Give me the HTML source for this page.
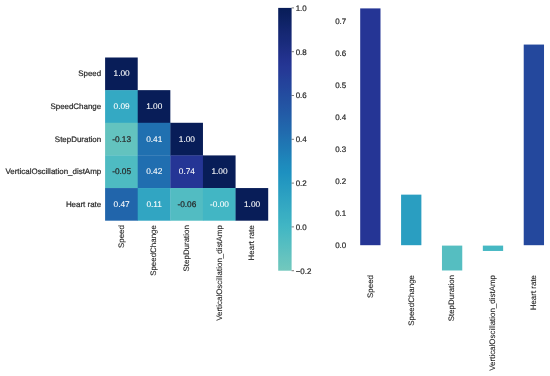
<!DOCTYPE html>
<html><head><meta charset="utf-8"><style>
html,body{margin:0;padding:0;background:#fff;}
svg{display:block;filter:blur(0.35px);}
text{font-family:"Liberation Sans",Arial,sans-serif;font-size:7.95px;text-rendering:geometricPrecision;stroke-width:0.2px;}
</style></head><body>
<svg width="550" height="376" viewBox="0 0 550 376">
<rect width="550" height="376" fill="#ffffff"/>
<defs><linearGradient id="cb" x1="0" y1="0" x2="0" y2="1"><stop offset="0.00%" stop-color="#081d58"/><stop offset="2.50%" stop-color="#0b1f5e"/><stop offset="5.00%" stop-color="#0e2265"/><stop offset="7.50%" stop-color="#12256d"/><stop offset="10.00%" stop-color="#162874"/><stop offset="12.50%" stop-color="#182a7a"/><stop offset="15.00%" stop-color="#1c2d81"/><stop offset="17.50%" stop-color="#203089"/><stop offset="20.00%" stop-color="#233390"/><stop offset="22.50%" stop-color="#253795"/><stop offset="25.00%" stop-color="#253b97"/><stop offset="27.50%" stop-color="#24419a"/><stop offset="30.00%" stop-color="#24459c"/><stop offset="32.50%" stop-color="#234b9f"/><stop offset="35.00%" stop-color="#2350a1"/><stop offset="37.50%" stop-color="#2355a4"/><stop offset="40.00%" stop-color="#225aa6"/><stop offset="42.50%" stop-color="#2260a9"/><stop offset="45.00%" stop-color="#2166ac"/><stop offset="47.50%" stop-color="#216bae"/><stop offset="50.00%" stop-color="#2072b1"/><stop offset="52.50%" stop-color="#1f78b4"/><stop offset="55.00%" stop-color="#1f7eb7"/><stop offset="57.50%" stop-color="#1e85ba"/><stop offset="60.00%" stop-color="#1e8bbd"/><stop offset="62.50%" stop-color="#1d90c0"/><stop offset="65.00%" stop-color="#2195c0"/><stop offset="67.50%" stop-color="#259ac1"/><stop offset="70.00%" stop-color="#2a9ec1"/><stop offset="72.50%" stop-color="#2ea3c2"/><stop offset="75.00%" stop-color="#33a7c2"/><stop offset="77.50%" stop-color="#37acc3"/><stop offset="80.00%" stop-color="#3bb0c3"/><stop offset="82.50%" stop-color="#40b5c4"/><stop offset="85.00%" stop-color="#46b8c3"/><stop offset="87.50%" stop-color="#4ebbc2"/><stop offset="90.00%" stop-color="#55bec1"/><stop offset="92.50%" stop-color="#5dc0c0"/><stop offset="95.00%" stop-color="#65c3bf"/><stop offset="97.50%" stop-color="#6bc6be"/><stop offset="100.00%" stop-color="#73c8bd"/></linearGradient></defs>
<rect x="105.10" y="57.50" width="32.62" height="32.94" fill="#081d58"/>
<text x="121.61" y="76.32" text-anchor="middle" fill="#ffffff" stroke="#ffffff" style="font-size:8.3px;stroke-width:0.08px">1.00</text>
<rect x="105.10" y="90.14" width="32.92" height="32.94" fill="#34a9c3"/>
<text x="121.61" y="108.96" text-anchor="middle" fill="#ffffff" stroke="#ffffff" style="font-size:8.3px;stroke-width:0.08px">0.09</text>
<rect x="137.72" y="90.14" width="32.62" height="32.94" fill="#081d58"/>
<text x="154.23" y="108.96" text-anchor="middle" fill="#ffffff" stroke="#ffffff" style="font-size:8.3px;stroke-width:0.08px">1.00</text>
<rect x="105.10" y="122.78" width="32.92" height="32.94" fill="#63c3bf"/>
<text x="121.61" y="141.60" text-anchor="middle" fill="#262626" stroke="#262626" style="font-size:8.3px;stroke-width:0.2px">-0.13</text>
<rect x="137.72" y="122.78" width="32.92" height="32.94" fill="#2070b0"/>
<text x="154.23" y="141.60" text-anchor="middle" fill="#ffffff" stroke="#ffffff" style="font-size:8.3px;stroke-width:0.08px">0.41</text>
<rect x="170.34" y="122.78" width="32.62" height="32.94" fill="#081d58"/>
<text x="186.85" y="141.60" text-anchor="middle" fill="#ffffff" stroke="#ffffff" style="font-size:8.3px;stroke-width:0.08px">1.00</text>
<rect x="105.10" y="155.42" width="32.92" height="32.94" fill="#4ebbc2"/>
<text x="121.61" y="174.24" text-anchor="middle" fill="#262626" stroke="#262626" style="font-size:8.3px;stroke-width:0.2px">-0.05</text>
<rect x="137.72" y="155.42" width="32.92" height="32.94" fill="#206eb0"/>
<text x="154.23" y="174.24" text-anchor="middle" fill="#ffffff" stroke="#ffffff" style="font-size:8.3px;stroke-width:0.08px">0.42</text>
<rect x="170.34" y="155.42" width="32.92" height="32.94" fill="#253595"/>
<text x="186.85" y="174.24" text-anchor="middle" fill="#ffffff" stroke="#ffffff" style="font-size:8.3px;stroke-width:0.08px">0.74</text>
<rect x="202.96" y="155.42" width="32.62" height="32.94" fill="#081d58"/>
<text x="219.47" y="174.24" text-anchor="middle" fill="#ffffff" stroke="#ffffff" style="font-size:8.3px;stroke-width:0.08px">1.00</text>
<rect x="105.10" y="188.06" width="32.92" height="32.64" fill="#2165ab"/>
<text x="121.61" y="206.88" text-anchor="middle" fill="#ffffff" stroke="#ffffff" style="font-size:8.3px;stroke-width:0.08px">0.47</text>
<rect x="137.72" y="188.06" width="32.92" height="32.64" fill="#31a5c2"/>
<text x="154.23" y="206.88" text-anchor="middle" fill="#ffffff" stroke="#ffffff" style="font-size:8.3px;stroke-width:0.08px">0.11</text>
<rect x="170.34" y="188.06" width="32.92" height="32.64" fill="#52bcc2"/>
<text x="186.85" y="206.88" text-anchor="middle" fill="#262626" stroke="#262626" style="font-size:8.3px;stroke-width:0.2px">-0.06</text>
<rect x="202.96" y="188.06" width="32.92" height="32.64" fill="#42b6c4"/>
<text x="219.47" y="206.88" text-anchor="middle" fill="#ffffff" stroke="#ffffff" style="font-size:8.3px;stroke-width:0.08px">-0.00</text>
<rect x="235.58" y="188.06" width="32.62" height="32.64" fill="#081d58"/>
<text x="252.09" y="206.88" text-anchor="middle" fill="#ffffff" stroke="#ffffff" style="font-size:8.3px;stroke-width:0.08px">1.00</text>
<text x="101.2" y="76.22" text-anchor="end" fill="#262626" stroke="#262626">Speed</text>
<text x="101.2" y="108.86" text-anchor="end" fill="#262626" stroke="#262626">SpeedChange</text>
<text x="101.2" y="141.50" text-anchor="end" fill="#262626" stroke="#262626">StepDuration</text>
<text x="101.2" y="174.14" text-anchor="end" fill="#262626" stroke="#262626">VerticalOscillation_distAmp</text>
<text x="101.2" y="206.78" text-anchor="end" fill="#262626" stroke="#262626">Heart rate</text>
<text transform="translate(123.81,225.1) rotate(-90)" text-anchor="end" fill="#262626" stroke="#262626" style="stroke-width:0.1px">Speed</text>
<text transform="translate(156.43,225.1) rotate(-90)" text-anchor="end" fill="#262626" stroke="#262626" style="stroke-width:0.1px">SpeedChange</text>
<text transform="translate(189.05,225.1) rotate(-90)" text-anchor="end" fill="#262626" stroke="#262626" style="stroke-width:0.1px">StepDuration</text>
<text transform="translate(221.67,225.1) rotate(-90)" text-anchor="end" fill="#262626" stroke="#262626" style="stroke-width:0.1px">VerticalOscillation_distAmp</text>
<text transform="translate(254.29,225.1) rotate(-90)" text-anchor="end" fill="#262626" stroke="#262626" style="stroke-width:0.1px">Heart rate</text>
<rect x="278.2" y="7.9" width="13.40" height="262.80" fill="url(#cb)"/>
<line x1="291.60" x2="294.00" y1="7.90" y2="7.90" stroke="#262626" stroke-width="0.6"/>
<text x="295.70" y="10.80" fill="#262626" stroke="#262626">1.0</text>
<line x1="291.60" x2="294.00" y1="51.70" y2="51.70" stroke="#262626" stroke-width="0.6"/>
<text x="295.70" y="54.60" fill="#262626" stroke="#262626">0.8</text>
<line x1="291.60" x2="294.00" y1="95.50" y2="95.50" stroke="#262626" stroke-width="0.6"/>
<text x="295.70" y="98.40" fill="#262626" stroke="#262626">0.6</text>
<line x1="291.60" x2="294.00" y1="139.30" y2="139.30" stroke="#262626" stroke-width="0.6"/>
<text x="295.70" y="142.20" fill="#262626" stroke="#262626">0.4</text>
<line x1="291.60" x2="294.00" y1="183.10" y2="183.10" stroke="#262626" stroke-width="0.6"/>
<text x="295.70" y="186.00" fill="#262626" stroke="#262626">0.2</text>
<line x1="291.60" x2="294.00" y1="226.90" y2="226.90" stroke="#262626" stroke-width="0.6"/>
<text x="295.70" y="229.80" fill="#262626" stroke="#262626">0.0</text>
<line x1="291.60" x2="294.00" y1="270.70" y2="270.70" stroke="#262626" stroke-width="0.6"/>
<text x="295.70" y="273.60" fill="#262626" stroke="#262626">−0.2</text>
<rect x="360.20" y="8.40" width="20.3" height="236.80" fill="#253595"/>
<text transform="translate(372.65,275.0) rotate(-90)" text-anchor="end" fill="#262626" stroke="#262626" style="stroke-width:0.1px">Speed</text>
<rect x="401.08" y="194.64" width="20.3" height="50.56" fill="#2a9ec1"/>
<text transform="translate(413.53,275.0) rotate(-90)" text-anchor="end" fill="#262626" stroke="#262626" style="stroke-width:0.1px">SpeedChange</text>
<rect x="441.96" y="245.60" width="20.3" height="24.88" fill="#55bec1"/>
<text transform="translate(454.41,275.0) rotate(-90)" text-anchor="end" fill="#262626" stroke="#262626" style="stroke-width:0.1px">StepDuration</text>
<rect x="482.84" y="245.60" width="20.3" height="5.36" fill="#46b8c3"/>
<text transform="translate(495.29,275.0) rotate(-90)" text-anchor="end" fill="#262626" stroke="#262626" style="stroke-width:0.1px">VerticalOscillation_distAmp</text>
<rect x="523.72" y="44.56" width="20.3" height="200.64" fill="#24489d"/>
<text transform="translate(536.17,275.0) rotate(-90)" text-anchor="end" fill="#262626" stroke="#262626" style="stroke-width:0.1px">Heart rate</text>
<text x="346.2" y="248.10" text-anchor="end" fill="#262626" stroke="#262626">0.0</text>
<text x="346.2" y="216.10" text-anchor="end" fill="#262626" stroke="#262626">0.1</text>
<text x="346.2" y="184.10" text-anchor="end" fill="#262626" stroke="#262626">0.2</text>
<text x="346.2" y="152.10" text-anchor="end" fill="#262626" stroke="#262626">0.3</text>
<text x="346.2" y="120.10" text-anchor="end" fill="#262626" stroke="#262626">0.4</text>
<text x="346.2" y="88.10" text-anchor="end" fill="#262626" stroke="#262626">0.5</text>
<text x="346.2" y="56.10" text-anchor="end" fill="#262626" stroke="#262626">0.6</text>
<text x="346.2" y="24.10" text-anchor="end" fill="#262626" stroke="#262626">0.7</text>
</svg></body></html>
